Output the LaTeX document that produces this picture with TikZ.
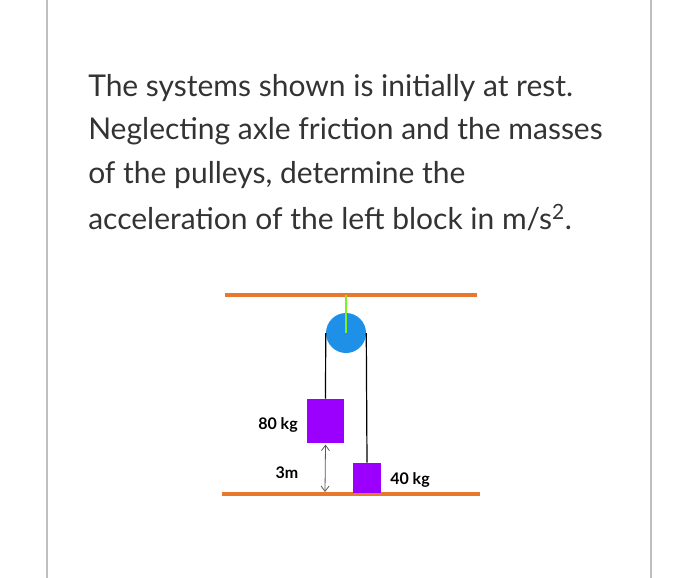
\documentclass[tikz,border=0pt]{standalone}
\usepackage{fontspec}
\setmainfont{Lato}
\usetikzlibrary{arrows.meta}
\definecolor{txt}{HTML}{333333}
\definecolor{bar}{HTML}{E8782E}
\definecolor{pul}{HTML}{1E90E8}
\definecolor{blk}{HTML}{9B00FF}
\definecolor{grn}{HTML}{7CF020}
\begin{document}
\begin{tikzpicture}[x=0.75pt,y=-0.75pt,
  line/.style={anchor=west,text=txt,font=\fontsize{22.5}{26}\selectfont,inner sep=0pt},
  lab/.style={font=\bfseries\fontsize{12}{13}\selectfont,inner sep=0pt},
  barline/.style={bar,line width=3.5pt},
  rope/.style={black,line width=0.9pt}]
\useasboundingbox (0,0) rectangle (700,578);
\draw[gray!50,line width=1pt] (47,0) -- (47,578) (651,0) -- (651,578);
\node[line] (l1) at (88,88) {The systems shown is initially at rest.};
\node[line] (l2) at (88,131) {Neglecting axle friction and the masses};
\node[line] (l3) at (88,175) {of the pulleys, determine the};
\node[line] (l4) at (88,218) {acceleration of the left block in m/s\textsuperscript{2}.};
\coordinate (tl) at (225,295); \coordinate (tr) at (477,295);
\draw[barline] (tl) -- (tr);
\coordinate (bl) at (222,494); \coordinate (br) at (480,494);
\draw[barline] (bl) -- (br);
\node[circle,fill=pul,minimum size=30pt,inner sep=0pt] (p) at (346,333) {};
\coordinate (hang) at (346,295);
\draw[grn,line width=2.2pt] (hang) -- (p.center);
\node[fill=blk,minimum width=27.75pt,minimum height=33pt,inner sep=0pt] (m1) at (325.5,421) {};
\node[fill=blk,minimum width=21pt,minimum height=22.5pt,inner sep=0pt] (m2) at (367,478) {};
\draw[rope] (p.west) -- (m1.north);
\draw[rope] (p.east) -- (m2.north);
\coordinate (a2) at (325,492);
\draw[gray!70!black,line width=0.6pt,{Straight Barb[length=4pt,width=6pt]}-{Straight Barb[length=4pt,width=6pt]}] ([yshift=-1pt]m1.south) -- (a2);
\node[lab] (t1) at (278,425) {80 kg};
\node[lab] (t2) at (287,473) {3m};
\node[lab] (t3) at (410,480) {40 kg};
\end{tikzpicture}
\end{document}
